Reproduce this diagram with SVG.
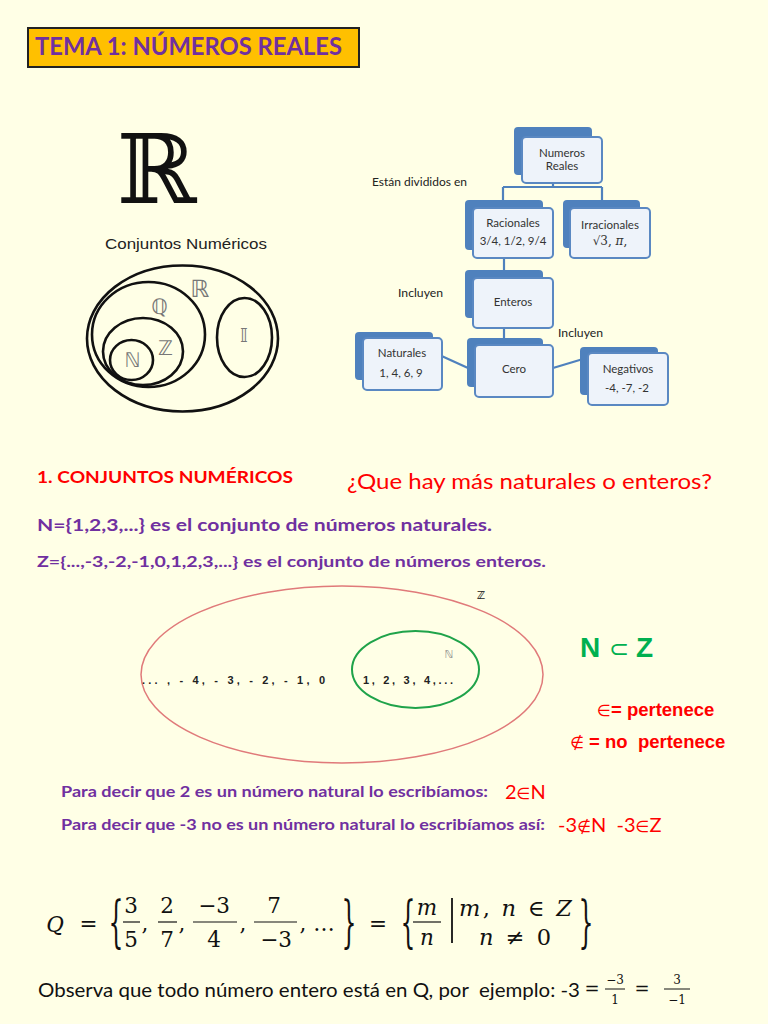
<svg xmlns="http://www.w3.org/2000/svg" width="768" height="1024" viewBox="0 0 768 1024">
<style>
.cal{font-family:Lato,"Open Sans","Liberation Sans",sans-serif}
.purple{fill:#7030A0;font-weight:bold}
.red{fill:#FF0000}
.pre{white-space:pre}
.node-back{fill:#4F81BD}
.node-front{fill:#EEF3FA;stroke:#5A88C2;stroke-width:2}
.ntext{font-family:Lato,"Open Sans","Liberation Sans",sans-serif;font-size:11.5px;fill:#333;text-anchor:middle}
.conn{stroke:#4F81BD;stroke-width:2.2;fill:none}
.set{fill:none;stroke:#111;stroke-width:2.6}
.dbl{font-family:"DejaVu Sans","DejaVu Serif",sans-serif;fill:#777;text-anchor:middle}
.math{font-family:"DejaVu Serif","Liberation Serif",serif;font-size:21.5px;fill:#111;text-anchor:middle}
.brace{font-family:"DejaVu Serif","Liberation Serif",serif;font-size:56px;fill:#111;text-anchor:middle}
.mi{font-style:italic}
.bar{stroke:#111;stroke-width:1.2}
</style>
<rect width="768" height="1024" fill="#FFFFE6"/>

<!-- Title -->
<g id="title">
<rect x="28" y="28" width="331" height="39" fill="#FFC000" stroke="#222" stroke-width="2"/>
<text x="35" y="55" class="cal purple" font-size="25" textLength="307" lengthAdjust="spacingAndGlyphs">TEMA 1: NÚMEROS REALES</text>
</g>

<!-- Big R and set diagram -->
<g id="sets">
<text x="157" y="203" font-family="'DejaVu Serif','DejaVu Sans',serif" font-size="96" fill="#111" text-anchor="middle">ℝ</text>
<text x="105" y="249" font-family="'Liberation Sans',Arial,sans-serif" font-size="15.5" fill="#222" textLength="162" lengthAdjust="spacingAndGlyphs">Conjuntos Numéricos</text>
<ellipse class="set" cx="182.5" cy="338.5" rx="95.5" ry="73"/>
<ellipse class="set" cx="148.5" cy="334.5" rx="56.5" ry="52.5"/>
<ellipse class="set" cx="143" cy="351.5" rx="40" ry="33.5"/>
<ellipse class="set" cx="131.5" cy="360" rx="21.5" ry="20"/>
<ellipse class="set" cx="244.5" cy="337.5" rx="27.5" ry="39.5"/>
<text class="dbl" x="200" y="297" font-size="24">ℝ</text>
<text class="dbl" x="159.5" y="314" font-size="21">ℚ</text>
<text class="dbl" x="165.5" y="355" font-size="20">ℤ</text>
<text class="dbl" x="132.5" y="367" font-size="20">ℕ</text>
<text class="dbl" x="244" y="342" font-size="20">𝕀</text>
</g>

<!-- Tree diagram -->
<g id="connectors">
<path class="conn" d="M553 178 V187 M503 187 H602 M503 187 V205 M602 187 V205"/>
<path class="conn" d="M504 253 V275"/>
<path class="conn" d="M504 325 V342"/>
<path class="conn" d="M435 353 L468 368"/>
<path class="conn" d="M553 368 L583 359"/>
</g>
<text class="cal" x="372" y="186" font-size="12" fill="#222" textLength="95" lengthAdjust="spacingAndGlyphs">Están divididos en</text>
<text class="cal" x="398" y="297" font-size="12" fill="#222" textLength="45" lengthAdjust="spacingAndGlyphs">Incluyen</text>
<text class="cal" x="558" y="337" font-size="12" fill="#222" textLength="45" lengthAdjust="spacingAndGlyphs">Incluyen</text>

<g id="node-reales">
<rect class="node-back" x="514" y="127" width="78" height="48" rx="4"/>
<rect class="node-front" x="522" y="137" width="80" height="46" rx="4"/>
<text class="ntext" x="562" y="157">Numeros</text>
<text class="ntext" x="562" y="170">Reales</text>
</g>
<g id="node-racionales">
<rect class="node-back" x="465" y="200" width="78" height="50" rx="4"/>
<rect class="node-front" x="473" y="208" width="80" height="50" rx="4"/>
<text class="ntext" x="513" y="227">Racionales</text>
<text class="ntext" x="513" y="245">3/4, 1/2, 9/4</text>
</g>
<g id="node-irracionales">
<rect class="node-back" x="563" y="200" width="77" height="48" rx="4"/>
<rect class="node-front" x="570" y="208" width="80" height="50" rx="4"/>
<text class="ntext" x="610" y="229">Irracionales</text>
<text x="610" y="245" font-family="'DejaVu Serif','Liberation Serif',serif" font-size="12" fill="#333" text-anchor="middle">√3, <tspan font-style="italic">π</tspan>,</text>
</g>
<g id="node-enteros">
<rect class="node-back" x="465" y="270" width="78" height="48" rx="4"/>
<rect class="node-front" x="473" y="278" width="80" height="50" rx="4"/>
<text class="ntext" x="513" y="306">Enteros</text>
</g>
<g id="node-naturales">
<rect class="node-back" x="355" y="332" width="78" height="48" rx="4"/>
<rect class="node-front" x="363" y="338" width="79" height="52" rx="4"/>
<text class="ntext" x="402" y="357">Naturales</text>
<text class="ntext" x="401" y="377">1, 4, 6, 9</text>
</g>
<g id="node-cero">
<rect class="node-back" x="467" y="338" width="76" height="49" rx="4"/>
<rect class="node-front" x="475" y="345" width="78" height="52" rx="4"/>
<text class="ntext" x="514" y="373">Cero</text>
</g>
<g id="node-negativos">
<rect class="node-back" x="580" y="347" width="78" height="48" rx="4"/>
<rect class="node-front" x="588" y="353" width="80" height="52" rx="4"/>
<text class="ntext" x="628" y="373">Negativos</text>
<text class="ntext" x="627" y="392">-4, -7, -2</text>
</g>

<!-- Section 1 -->
<g id="section-text">
<text class="cal red" x="37" y="483" font-size="17" font-weight="bold" textLength="256" lengthAdjust="spacingAndGlyphs">1. CONJUNTOS NUMÉRICOS</text>
<text class="cal red" x="347" y="489" font-size="22" textLength="365" lengthAdjust="spacingAndGlyphs">¿Que hay más naturales o enteros?</text>
<text class="cal purple" x="37" y="531" font-size="17" textLength="455" lengthAdjust="spacingAndGlyphs">N={1,2,3,...} es el conjunto de números naturales.</text>
<text class="cal purple" x="37" y="567" font-size="16" textLength="509" lengthAdjust="spacingAndGlyphs">Z={...,-3,-2,-1,0,1,2,3,...} es el conjunto de números enteros.</text>
</g>

<!-- Z / N ellipse diagram -->
<g id="zn-diagram">
<ellipse cx="342" cy="674.5" rx="201" ry="88.5" fill="none" stroke="#E07A7A" stroke-width="1.5"/>
<ellipse cx="415.5" cy="669.5" rx="63.5" ry="38.5" fill="none" stroke="#1FA34A" stroke-width="2"/>
<text x="481" y="599" font-family="'DejaVu Sans',sans-serif" font-size="11" font-weight="bold" fill="#222" text-anchor="middle">ℤ</text>
<text x="449" y="658" font-family="'DejaVu Sans',sans-serif" font-size="11" fill="#888" text-anchor="middle">ℕ</text>
<text x="142" y="684" font-family="'Liberation Sans',Arial,sans-serif" font-size="11" font-weight="bold" fill="#222" textLength="183" lengthAdjust="spacing">... , - 4, - 3, - 2, - 1, 0</text>
<text x="363" y="684" font-family="'Liberation Sans',Arial,sans-serif" font-size="11" font-weight="bold" fill="#222" textLength="90" lengthAdjust="spacing">1, 2, 3, 4,...</text>
</g>

<g id="symbols">
<text x="580" y="657" font-family="'Liberation Sans',Arial,sans-serif" font-size="28" font-weight="bold" fill="#00B050">N</text>
<text x="619" y="657" font-family="'DejaVu Sans',sans-serif" font-size="24" fill="#00B050" text-anchor="middle">⊂</text>
<text x="636" y="657" font-family="'Liberation Sans',Arial,sans-serif" font-size="28" font-weight="bold" fill="#00B050">Z</text>
<text x="597" y="716" font-family="'Liberation Sans',Arial,sans-serif" font-size="18.5" font-weight="bold" fill="#FF0000"><tspan font-weight="normal" font-family="'DejaVu Sans',sans-serif" font-size="16">∈</tspan>= pertenece</text>
<text class="pre" x="570" y="748" font-family="'Liberation Sans',Arial,sans-serif" font-size="18.5" font-weight="bold" fill="#FF0000"><tspan font-weight="normal" font-family="'DejaVu Sans',sans-serif" font-size="16">∉</tspan> = no  pertenece</text>
</g>

<g id="examples">
<text class="cal purple" x="61" y="797" font-size="15" textLength="427" lengthAdjust="spacingAndGlyphs">Para decir que 2 es un número natural lo escribíamos:</text>
<text class="cal red" x="505" y="799" font-size="20">2<tspan font-family="'DejaVu Sans',sans-serif" font-size="16">∈</tspan>N</text>
<text class="cal purple" x="61" y="830" font-size="15" textLength="484" lengthAdjust="spacingAndGlyphs">Para decir que -3 no es un número natural lo escribíamos así:</text>
<text class="cal red pre" x="558" y="832" font-size="20">-3<tspan font-family="'DejaVu Sans',sans-serif" font-size="16">∉</tspan>N  -3<tspan font-family="'DejaVu Sans',sans-serif" font-size="16">∈</tspan>Z</text>
</g>

<!-- Formula -->
<g id="formula">
<text class="math mi" x="55" y="932">Q</text>
<text class="math" x="88.5" y="931">=</text>
<text class="brace" transform="translate(116,941) scale(0.42,1)">{</text>
<text class="math" x="131" y="913">3</text>
<line class="bar" x1="123" y1="922" x2="140" y2="922"/>
<text class="math" x="131" y="947">5</text>
<text class="math" x="145" y="931">,</text>
<text class="math" x="167" y="913">2</text>
<line class="bar" x1="158" y1="922" x2="177" y2="922"/>
<text class="math" x="167" y="947">7</text>
<text class="math" x="182" y="931">,</text>
<text class="math" x="214" y="913">−3</text>
<line class="bar" x1="193" y1="922" x2="237" y2="922"/>
<text class="math" x="214" y="947">4</text>
<text class="math" x="243" y="931">,</text>
<text class="math" x="274" y="913">7</text>
<line class="bar" x1="254" y1="922" x2="297" y2="922"/>
<text class="math" x="276" y="947">−3</text>
<text class="math" x="303" y="931">,</text>
<text class="math" x="324" y="931">…</text>
<text class="brace" transform="translate(349,941) scale(0.42,1)">}</text>
<text class="math" x="378" y="931">=</text>
<text class="brace" transform="translate(408,941) scale(0.42,1)">{</text>
<text class="math mi" x="427" y="915">m</text>
<line class="bar" x1="413" y1="922" x2="441" y2="922"/>
<text class="math mi" x="427" y="945">n</text>
<line x1="452" y1="898" x2="452" y2="943" stroke="#111" stroke-width="1.8"/>
<text class="math" style="text-anchor:start;font-size:22.5px" x="459" y="916" textLength="113" lengthAdjust="spacing"><tspan class="mi">m</tspan>, <tspan class="mi">n</tspan> ∈ <tspan class="mi">Z</tspan></text>
<text class="math" style="text-anchor:start;font-size:22.5px" x="479" y="945" textLength="72" lengthAdjust="spacing"><tspan class="mi">n</tspan> ≠ 0</text>
<text class="brace" transform="translate(586,941) scale(0.42,1)">}</text>
</g>

<g id="observa">
<text class="cal pre" x="38" y="997" font-size="20" fill="#111" textLength="542" lengthAdjust="spacingAndGlyphs">Observa que todo número entero está en Q, por  ejemplo: -3</text>
<text x="592" y="995" font-family="'DejaVu Serif',serif" font-size="18" fill="#111" text-anchor="middle">=</text>
<text x="615" y="984" font-family="'DejaVu Serif',serif" font-size="12" fill="#111" text-anchor="middle">−3</text>
<line x1="605" y1="989" x2="625" y2="989" stroke="#111" stroke-width="1"/>
<text x="615" y="1004" font-family="'DejaVu Serif',serif" font-size="12" fill="#111" text-anchor="middle">1</text>
<text x="642" y="995" font-family="'DejaVu Serif',serif" font-size="18" fill="#111" text-anchor="middle">=</text>
<text x="677" y="984" font-family="'DejaVu Serif',serif" font-size="12" fill="#111" text-anchor="middle">3</text>
<line x1="664" y1="989" x2="690" y2="989" stroke="#111" stroke-width="1"/>
<text x="677" y="1004" font-family="'DejaVu Serif',serif" font-size="12" fill="#111" text-anchor="middle">−1</text>
</g>
</svg>
